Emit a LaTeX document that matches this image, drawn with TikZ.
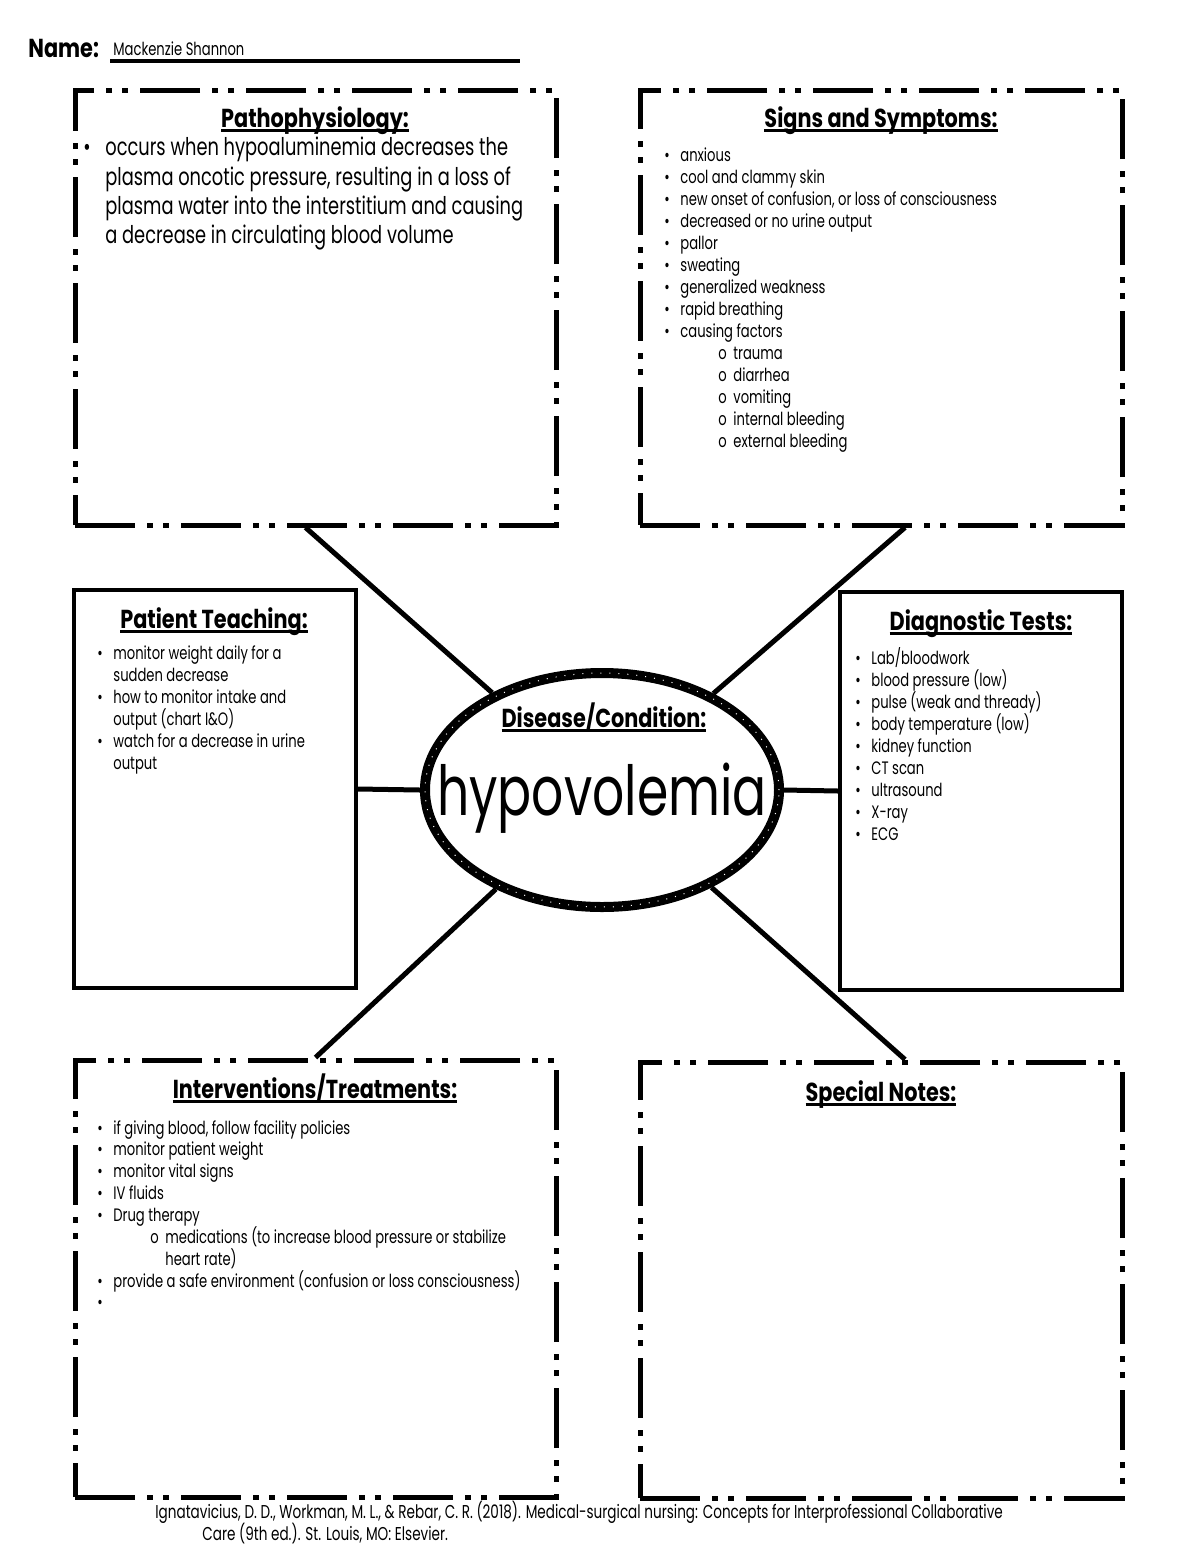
\documentclass[tikz,border=0pt]{standalone}
\usepackage{fontspec}
\usetikzlibrary{shapes.geometric}
\newfontfamily\bodyfont[FakeStretch=0.73]{Poppins}
\newfontfamily\headfont[FakeStretch=0.8]{Poppins}
\newcommand{\bigtxt}{\bodyfont\fontsize{12.2}{15}\selectfont}
\newcommand{\smalltxt}{\bodyfont\fontsize{9}{11}\selectfont}
\newcommand{\headtxt}{\headfont\bfseries\fontsize{13}{15}\selectfont}
\newcommand{\bul}{\makebox[8pt][l]{\textbullet}}
\newcommand{\subbul}{\makebox[7.5pt][l]{o}}
\newcommand{\uln}[1]{\setbox0\hbox{#1}\rlap{\rule[-2.4pt]{\wd0}{1.4pt}}\box0}
\tikzset{dashbox/.style={draw, rectangle, line width=2.5pt, dash pattern=on 30pt off 6pt on 3pt off 5pt on 3pt off 6pt, inner sep=0pt},
	solidbox/.style={draw, rectangle, line width=2pt, inner sep=0pt},
	head/.style={anchor=base, inner sep=0pt, font=\headtxt},
	txt/.style={anchor=base west, inner sep=0pt, font=\smalltxt},
	link/.style={line width=2.5pt}}

\begin{document}
\begin{tikzpicture}[x=0.5pt,y=-0.5pt]
	\path[fill=white,use as bounding box] (0,0) rectangle (1200,1554);
	% name line
	\node[anchor=base west, inner sep=0pt, font=\headtxt] (namelbl) at (28,57) {Name:};
	\node[txt] (nameval) at (113,55) {Mackenzie Shannon};
	\draw[line width=2pt] (110,61) -- (520,61);
	% boxes
	\node[dashbox, minimum width=240.5pt, minimum height=217.5pt] (patho) at (315.5,307.5) {};
	\node[dashbox, minimum width=241pt, minimum height=217.5pt] (sgns) at (881,307.5) {};
	\node[solidbox, minimum width=141pt, minimum height=199pt] (tch) at (215,789) {};
	\node[solidbox, minimum width=141pt, minimum height=199pt] (dgn) at (981,791) {};
	\node[dashbox, minimum width=240.5pt, minimum height=218.5pt] (intv) at (315.5,1278.5) {};
	\node[dashbox, minimum width=241pt, minimum height=218pt] (notes) at (881,1280) {};
	% center
	\node[ellipse, draw, line width=5pt, minimum width=177pt, minimum height=117pt, inner sep=0pt] (hub) at (602,790) {};
	\draw[white, line width=0.5pt, dash pattern=on 0.5pt off 4pt] (hub.center) ellipse [x radius=88.5pt, y radius=58.5pt];
	\node[head] (hubhead) at (604,727) {\uln{Disease/Condition:}};
	\node[anchor=base, inner sep=0pt, font=\bodyfont\fontsize{34.5}{40}\selectfont] (disease) at (602,815) {hypovolemia};
	% links
	\draw[link] (hub) -- ([xshift=-5pt]patho.south);
	\draw[link] (hub) -- ([xshift=12pt]sgns.south);
	\draw[link] (hub.west) -- (tch.east);
	\draw[link] (hub.east) -- (dgn.west);
	\draw[link] (hub) -- (intv.north);
	\draw[link] (hub) -- ([xshift=12pt]notes.north);
	% headings
	\node[head] (pathohead) at (315,127) {\uln{Pathophysiology:}};
	\node[head] (sgnshead) at (881,127) {\uln{Signs and Symptoms:}};
	\node[head] (tchhead) at (214,628) {\uln{Patient Teaching:}};
	\node[head] (dgnhead) at (981,630) {\uln{Diagnostic Tests:}};
	\node[head] (intvhead) at (315,1098) {\uln{Interventions/Treatments:}};
	\node[head] (noteshead) at (881,1101) {\uln{Special Notes:}};
	% pathophysiology
	\node[txt, font=\bigtxt] (pa1) at (83,155) {\makebox[11pt][l]{\textbullet}occurs when hypoaluminemia decreases the};
	\node[txt, font=\bigtxt] (pa2) at (105,185) {plasma oncotic pressure, resulting in a loss of};
	\node[txt, font=\bigtxt] (pa3) at (105,214) {plasma water into the interstitium and causing};
	\node[txt, font=\bigtxt] (pa4) at (105,243) {a decrease in circulating blood volume};
	% signs and symptoms
	\foreach \t [count=\i] in {anxious, cool and clammy skin, {new onset of confusion, or loss of consciousness}, decreased or no urine output, pallor, sweating, generalized weakness, rapid breathing, causing factors}
		\node[txt] (sgn\i) at (664,{161+22*(\i-1)}) {\bul\t};
	\foreach \t [count=\i] in {trauma, diarrhea, vomiting, internal bleeding, external bleeding}
		\node[txt] (sgnsub\i) at (718,{359+22*(\i-1)}) {\subbul\t};
	% patient teaching
	\node[txt] (tch1) at (97,659) {\bul monitor weight daily for a};
	\node[txt] (tch1b) at (113,681) {sudden decrease};
	\node[txt] (tch2) at (97,703) {\bul how to monitor intake and};
	\node[txt] (tch2b) at (113,725) {output (chart I\&O)};
	\node[txt] (tch3) at (97,747) {\bul watch for a decrease in urine};
	\node[txt] (tch3b) at (113,769) {output};
	% diagnostic tests
	\foreach \t [count=\i] in {Lab/bloodwork, blood pressure (low), pulse (weak and thready), body temperature (low), kidney function, CT scan, ultrasound, X-ray, ECG}
		\node[txt] (dgn\i) at (855,{664+22*(\i-1)}) {\bul\t};
	% interventions
	\node[txt] (intv1) at (97,1134) {\bul if giving blood, follow facility policies};
	\node[txt] (intv2) at (97,1155) {\bul monitor patient weight};
	\node[txt] (intv3) at (97,1177) {\bul monitor vital signs};
	\node[txt] (intv4) at (97,1199) {\bul IV fluids};
	\node[txt] (intv5) at (97,1221) {\bul Drug therapy};
	\node[txt] (intv5a) at (150,1243) {\subbul medications (to increase blood pressure or stabilize};
	\node[txt] (intv5b) at (165,1265) {heart rate)};
	\node[txt] (intv6) at (97,1287) {\bul provide a safe environment (confusion or loss consciousness)};
	\node[txt] (intv7) at (97,1308) {\bul};
	% reference
	\node[txt, font=\bodyfont\fontsize{9.3}{11}\selectfont] (cite1) at (155,1518) {Ignatavicius, D. D., Workman, M. L., \& Rebar, C. R. (2018). Medical-surgical nursing: Concepts for Interprofessional Collaborative};
	\node[txt, font=\bodyfont\fontsize{9.3}{11}\selectfont] (cite2) at (202,1540) {Care (9th ed.). St. Louis, MO: Elsevier.};
\end{tikzpicture}
\end{document}
